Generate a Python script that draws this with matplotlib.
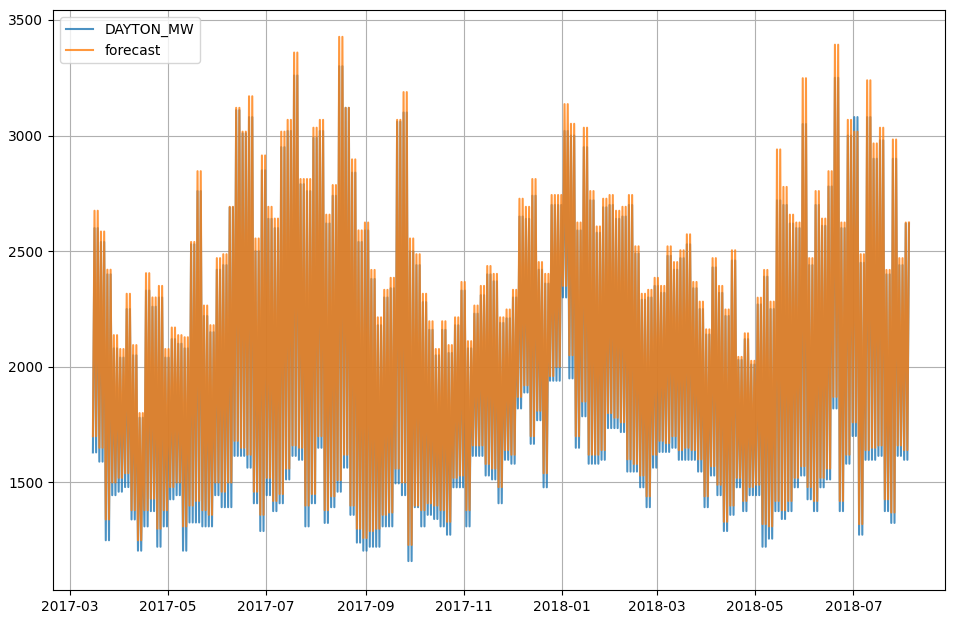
import numpy as np
import pandas as pd
import matplotlib
matplotlib.use("Agg")
import matplotlib.pyplot as plt
import matplotlib.dates as mdates

# 4-day buckets starting 2017-03-15
start_date = "2017-03-15"
bucket_days = 4

forecast_high = [2675, 2585, 2420, 2137, 2077, 2316, 2094, 1800, 2405, 2300, 2350, 2077, 2170, 2137, 2128,
                 2540, 2846, 2265, 2180, 2470, 2487, 2692, 3120, 3017, 3170, 2555, 2914, 2692, 2641, 3017,
                 3068, 3359, 2812, 2812, 3034, 3068, 2658, 2786, 3427, 3120, 2897, 2590, 2624, 2419, 2214,
                 2333, 2385, 3068, 3188, 2555, 2487, 2316, 2197, 2077, 2197, 2094, 2214, 2367, 2111, 2265,
                 2350, 2436, 2402, 2214, 2248, 2333, 2727, 2692, 2812, 2453, 2402, 2743, 2743, 3136, 3051,
                 2624, 3034, 2760, 2607, 2727, 2743, 2675, 2692, 2743, 2521, 2316, 2333, 2385, 2350, 2521,
                 2453, 2504, 2573, 2367, 2282, 2162, 2470, 2350, 2248, 2504, 2043, 2145, 2026, 2299, 2419,
                 2282, 2940, 2778, 2658, 2624, 3248, 2470, 2760, 2641, 2846, 3393, 2624, 3068, 3017, 2487,
                 3239, 2966, 3034, 2419, 2983, 2470, 2624]

forecast_low = [1700, 1650, 1340, 1500, 1520, 1540, 1380, 1250, 1380, 1430, 1300, 1380, 1480, 1500, 1310,
                1400, 1420, 1380, 1360, 1500, 1460, 1500, 1680, 1650, 1620, 1460, 1360, 1520, 1420, 1450,
                1560, 1660, 1650, 1400, 1450, 1700, 1380, 1440, 1510, 1620, 1400, 1300, 1260, 1290, 1300,
                1360, 1370, 1560, 1500, 1230, 1400, 1380, 1410, 1400, 1380, 1330, 1520, 1530, 1380, 1660,
                1660, 1580, 1560, 1480, 1640, 1620, 1870, 1920, 1700, 1810, 1540, 1960, 2000, 2350, 2050,
                1700, 1850, 1620, 1620, 1640, 1800, 1780, 1760, 1600, 1580, 1530, 1440, 1620, 1680, 1670,
                1700, 1640, 1650, 1640, 1600, 1440, 1570, 1490, 1330, 1400, 1520, 1420, 1480, 1490, 1320,
                1310, 1420, 1380, 1420, 1520, 1570, 1480, 1420, 1520, 1560, 1870, 1420, 1620, 1760, 1320,
                1640, 1650, 1660, 1427, 1370, 1660, 1640]

actual_high = [2600, 2540, 2400, 2080, 2040, 2250, 2050, 1780, 2330, 2260, 2300, 2040, 2120, 2100, 2080,
               2530, 2760, 2220, 2150, 2420, 2440, 2690, 3110, 3010, 3080, 2500, 2850, 2640, 2600, 2950,
               3020, 3260, 2790, 2760, 2990, 3020, 2620, 2740, 3300, 3120, 2840, 2540, 2590, 2380, 2180,
               2300, 2340, 3060, 3100, 2500, 2440, 2280, 2160, 2050, 2160, 2060, 2180, 2330, 2080, 2230,
               2310, 2400, 2370, 2190, 2210, 2300, 2650, 2640, 2740, 2420, 2360, 2700, 2700, 3020, 3000,
               2590, 2950, 2720, 2580, 2690, 2700, 2640, 2650, 2700, 2490, 2290, 2300, 2350, 2320, 2480,
               2420, 2470, 2530, 2340, 2250, 2140, 2430, 2320, 2220, 2460, 2030, 2120, 2010, 2270, 2390,
               2250, 2720, 2700, 2620, 2600, 3050, 2440, 2700, 2610, 2780, 3250, 2600, 3000, 3080, 2450,
               3080, 2900, 2980, 2400, 2900, 2440, 2620]

actual_low = [1630, 1590, 1250, 1445, 1460, 1480, 1340, 1205, 1310, 1376, 1222, 1310, 1427, 1445, 1205,
              1327, 1327, 1310, 1310, 1445, 1393, 1393, 1615, 1615, 1564, 1410, 1290, 1445, 1376, 1410,
              1513, 1615, 1598, 1310, 1410, 1650, 1325, 1393, 1460, 1564, 1360, 1240, 1205, 1222, 1222,
              1310, 1310, 1496, 1445, 1160, 1393, 1310, 1360, 1342, 1310, 1274, 1479, 1479, 1310, 1615,
              1615, 1530, 1513, 1410, 1598, 1581, 1820, 1889, 1667, 1769, 1479, 1940, 1940, 2300, 1950,
              1650, 1786, 1581, 1581, 1598, 1735, 1735, 1718, 1547, 1547, 1479, 1393, 1564, 1632, 1632,
              1650, 1598, 1598, 1598, 1547, 1393, 1530, 1445, 1290, 1360, 1479, 1376, 1445, 1445, 1222,
              1257, 1376, 1342, 1376, 1479, 1530, 1427, 1376, 1479, 1513, 1820, 1376, 1581, 1701, 1274,
              1598, 1598, 1615, 1376, 1325, 1615, 1598]

# each bucket is drawn as two daily low/high swings at its read levels
n = len(forecast_high)
starts = pd.date_range(start_date, periods=n, freq=f"{bucket_days}D")
offsets = [pd.Timedelta(hours=h) for h in (12, 36, 60, 84)]
times = np.empty(4 * n, dtype="datetime64[ns]")
for j, off in enumerate(offsets):
    times[j::4] = (starts + off).values

def swings(lo, hi):
    out = np.empty(4 * len(lo))
    out[0::4] = lo
    out[1::4] = hi
    out[2::4] = lo
    out[3::4] = hi
    return out

actual = swings(actual_low, actual_high)
forecast = swings(forecast_low, forecast_high)

fig = plt.figure(figsize=(9.55, 6.21), dpi=100)
ax = fig.add_axes([53 / 955, 1 - 590 / 621, (945 - 53) / 955, (590 - 10) / 621])
ax.plot(times, actual, color="C0", alpha=0.8, lw=1.5, label="DAYTON_MW")
ax.plot(times, forecast, color="C1", alpha=0.8, lw=1.5, label="forecast")
ax.set_xlim(pd.Timestamp("2017-02-18 17:00"), pd.Timestamp("2018-08-26 21:00"))
ax.set_ylim(1035, 3543)
ax.xaxis.set_major_locator(mdates.MonthLocator(bymonth=[1, 3, 5, 7, 9, 11]))
ax.xaxis.set_major_formatter(mdates.DateFormatter("%Y-%m"))
ax.grid(True)
ax.legend(loc="upper left")
fig.savefig("out.png", dpi=100)
